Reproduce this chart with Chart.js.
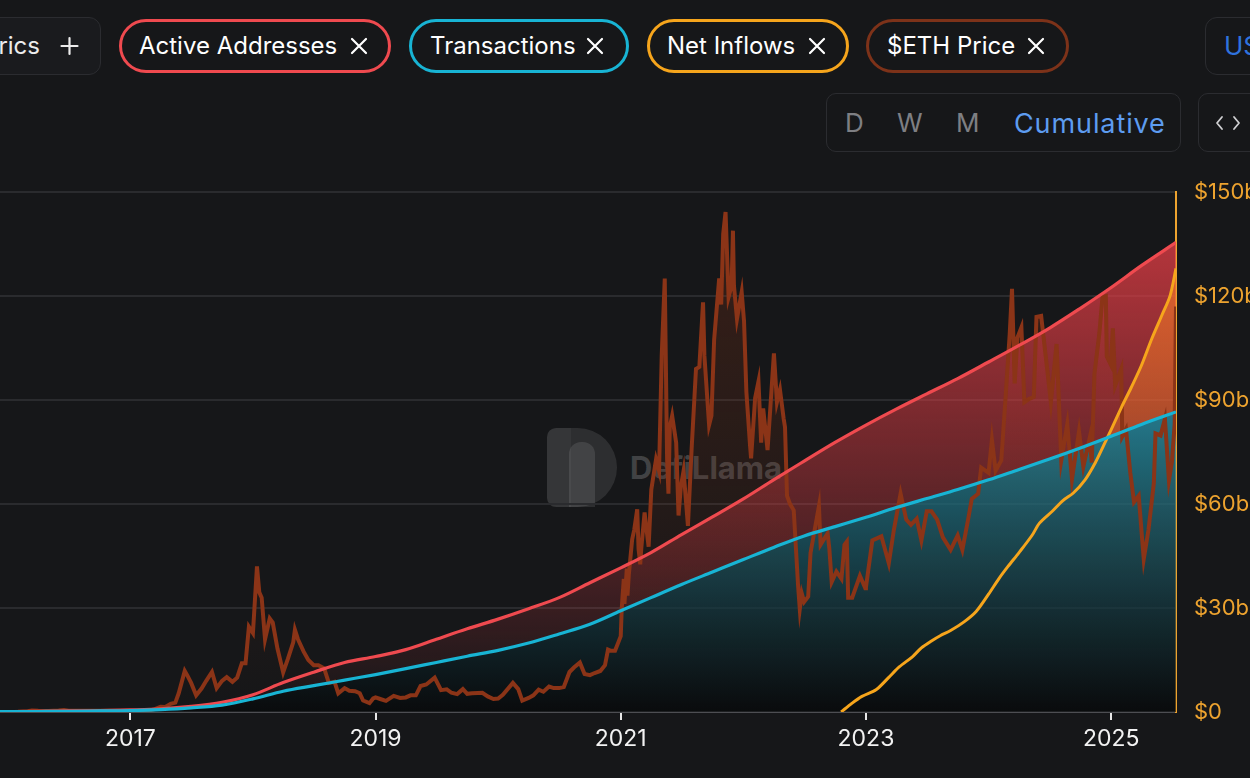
<!DOCTYPE html>
<html><head><meta charset="utf-8">
<script src="https://cdn.jsdelivr.net/npm/chart.js@4.4.1/dist/chart.umd.min.js"></script>
<style>
html,body{margin:0;padding:0;background:#161719;width:1250px;height:778px;overflow:hidden;font-family:Inter,"Noto Sans",sans-serif;}
.box{position:absolute;box-sizing:border-box;border:1.5px solid #2b2c30;border-radius:12px;}
.pill{position:absolute;top:19px;height:54px;box-sizing:border-box;border:3px solid;border-radius:27px;}
.t{position:absolute;top:50%;transform:translateY(-50%);white-space:nowrap;line-height:1;}
.pill .t{color:#fff;font-size:24px;}
.ic{position:absolute;top:50%;transform:translateY(-50%);}
#wrap{position:absolute;left:0;top:161px;width:1300px;height:617px;z-index:2;}
#wm{position:absolute;left:547px;top:428px;z-index:1;}
</style></head>
<body>
<div class="box" style="left:-100px;top:17px;width:201px;height:58px;background:#1a1b1e;">
  <span class="t" style="right:60px;color:#ececec;font-size:24px;">Metrics</span>
  <svg class="ic" style="left:159px" width="19" height="19" viewBox="0 0 19 19"><path d="M9.5 1.5v16M1.5 9.5h16" stroke="#ececec" stroke-width="2.2" stroke-linecap="round"/></svg>
</div>
<div class="pill" style="left:119px;width:272px;border-color:#ef4a4f;">
  <span class="t" style="left:17px">Active Addresses</span>
  <svg class="ic" style="left:228px" width="18" height="18" viewBox="0 0 18 18"><path d="M2 2L16 16M16 2L2 16" stroke="#fff" stroke-width="2.2" stroke-linecap="round"/></svg>
</div>
<div class="pill" style="left:409px;width:220px;border-color:#18b4d4;">
  <span class="t" style="left:18px">Transactions</span>
  <svg class="ic" style="left:174px" width="18" height="18" viewBox="0 0 18 18"><path d="M2 2L16 16M16 2L2 16" stroke="#fff" stroke-width="2.2" stroke-linecap="round"/></svg>
</div>
<div class="pill" style="left:647px;width:202px;border-color:#f6a51c;">
  <span class="t" style="left:17px">Net Inflows</span>
  <svg class="ic" style="left:158px" width="18" height="18" viewBox="0 0 18 18"><path d="M2 2L16 16M16 2L2 16" stroke="#fff" stroke-width="2.2" stroke-linecap="round"/></svg>
</div>
<div class="pill" style="left:866px;width:203px;border-color:#7d3219;">
  <span class="t" style="left:18px">$ETH Price</span>
  <svg class="ic" style="left:158px" width="18" height="18" viewBox="0 0 18 18"><path d="M2 2L16 16M16 2L2 16" stroke="#fff" stroke-width="2.2" stroke-linecap="round"/></svg>
</div>
<div class="box" style="left:1205px;top:17px;width:90px;height:58px;">
  <span class="t" style="left:18px;color:#2f72de;font-size:26px;">USD</span>
</div>
<div class="box" style="left:826px;top:93px;width:355px;height:59px;border-radius:10px;">
  <span class="t" style="left:18px;color:#7e7f83;font-size:26px;">D</span>
  <span class="t" style="left:70px;color:#7e7f83;font-size:26px;">W</span>
  <span class="t" style="left:129px;color:#7e7f83;font-size:26px;">M</span>
  <span class="t" style="left:187px;color:#5d9cf0;font-size:27px;letter-spacing:0.9px;">Cumulative</span>
</div>
<div class="box" style="left:1198px;top:93px;width:90px;height:59px;border-radius:10px;">
  <svg class="ic" style="left:16px" width="26" height="16" viewBox="0 0 26 16"><path d="M7 2L2 8L7 14M19 2L24 8L19 14" stroke="#d0d0d2" stroke-width="1.8" fill="none" stroke-linecap="round" stroke-linejoin="round"/></svg>
</div>

<div id="wm">
  <div style="position:absolute;left:0;top:0;width:70px;height:79px;border-radius:9px 40px 40px 9px;background:rgba(255,255,255,0.10);"></div>
  <div style="position:absolute;left:0;top:0;width:24px;height:79px;border-radius:9px 0 0 9px;background:rgba(255,255,255,0.04);"></div>
  <div style="position:absolute;left:22px;top:14px;width:26px;height:65px;border-radius:12px 12px 0 0;background:rgba(255,255,255,0.10);"></div>
  <span style="position:absolute;left:83px;top:21px;font-size:31px;font-weight:700;color:rgba(255,255,255,0.2);white-space:nowrap;">DefiLlama</span>
</div>

<div id="wrap"><canvas id="c" width="1300" height="617" style="width:1300px;height:617px"></canvas></div>

<script>
// ---------- data ----------
const cumDates = ['2015-12-09','2016-04-01','2016-07-01','2016-10-01','2017-01-01','2017-04-01','2017-07-01','2017-10-01',
  '2018-01-01','2018-04-01','2018-07-01','2018-10-01','2019-01-01','2019-04-01','2019-07-01','2019-10-01',
  '2020-01-01','2020-04-01','2020-07-01','2020-10-01','2021-01-01','2021-04-01','2021-07-01','2021-10-01',
  '2022-01-01','2022-04-01','2022-07-01','2022-10-01','2023-01-01','2023-04-01','2023-07-01','2023-10-01',
  '2024-01-01','2024-04-01','2024-07-01','2024-10-01','2025-01-01','2025-04-01','2025-07-13'];
const activeAddresses = [0.1,0.2,0.3,0.4,0.6,0.9,1.6,2.8,
  5.0,8.5,11.5,14.3,16.0,18.0,21.0,24.0,
  26.8,29.8,33.0,37.3,41.6,46.0,51.2,56.3,
  61.5,67.0,72.4,77.8,82.8,87.4,91.8,96.2,
  101.0,105.8,110.8,116.5,122.5,128.8,135.5];
const transactions = [0.1,0.15,0.2,0.3,0.4,0.7,1.2,2.0,
  3.8,6.0,7.6,9.2,10.8,12.5,14.3,16.1,
  17.8,19.9,22.5,25.3,29.2,33.0,36.8,40.4,
  44.0,47.5,50.8,53.5,56.2,59.0,61.6,64.2,
  67.0,70.0,73.0,76.2,79.6,83.0,86.6];

const netDates = ['2022-10-19','2022-11-20','2022-12-20','2023-02-01','2023-03-10','2023-04-10','2023-05-20','2023-06-15',
  '2023-07-15','2023-08-10','2023-09-10','2023-10-20','2023-11-25','2024-01-01','2024-02-01','2024-02-28',
  '2024-04-01','2024-05-10','2024-06-01','2024-07-10','2024-08-10','2024-09-10','2024-10-15','2024-11-15',
  '2024-12-10','2025-01-01','2025-02-01','2025-03-01','2025-04-01','2025-05-01','2025-06-01','2025-06-25','2025-07-13'];
const netInflows = [0,2.5,4.5,6.5,10,13,16,18.5,
  20.5,22,23.5,26,29,34,38.5,42,
  46,51,54.5,58,61,63.2,67,72,
  77,81.5,88,93.5,100,107.5,114.5,120,128];

const ethDates = [
  '2015-12-09',
  '2016-01-01','2016-02-01','2016-03-01','2016-03-13','2016-04-01','2016-05-01','2016-06-01','2016-06-17','2016-07-01','2016-08-01','2016-09-01','2016-10-01','2016-11-01','2016-12-01',
  '2017-01-01','2017-02-01','2017-03-01','2017-03-15','2017-04-01','2017-04-15','2017-05-01','2017-05-15','2017-05-25','2017-06-12','2017-06-20','2017-07-01','2017-07-16','2017-08-01','2017-08-15','2017-09-01','2017-09-15','2017-10-01','2017-10-15','2017-11-01','2017-11-15','2017-11-29','2017-12-10','2017-12-20',
  '2018-01-01','2018-01-13','2018-01-20','2018-01-27','2018-02-06','2018-02-20','2018-03-01','2018-03-15','2018-04-01','2018-04-15','2018-05-01','2018-05-06','2018-05-15','2018-06-01','2018-06-15','2018-07-01','2018-07-15','2018-08-01','2018-08-15','2018-09-01','2018-09-12','2018-10-01','2018-10-15','2018-11-01','2018-11-15','2018-11-25','2018-12-14','2018-12-25',
  '2019-01-01','2019-01-15','2019-02-01','2019-02-24','2019-03-15','2019-04-01','2019-04-15','2019-05-01','2019-05-15','2019-06-01','2019-06-26','2019-07-15','2019-08-01','2019-08-15','2019-09-01','2019-09-18','2019-10-01','2019-10-15','2019-11-01','2019-11-15','2019-12-01','2019-12-18',
  '2020-01-01','2020-01-15','2020-02-14','2020-03-01','2020-03-13','2020-04-01','2020-04-15','2020-05-01','2020-05-15','2020-06-01','2020-06-15','2020-07-01','2020-07-15','2020-08-01','2020-08-15','2020-09-01','2020-09-15','2020-10-01','2020-10-15','2020-11-01','2020-11-15','2020-11-24','2020-12-01','2020-12-15',
  '2021-01-01','2021-01-04','2021-01-10','2021-01-12','2021-01-19','2021-01-21','2021-01-25','2021-02-04','2021-02-10','2021-02-19','2021-02-23','2021-02-28','2021-03-03','2021-03-13','2021-03-17','2021-03-25',
  '2021-04-02','2021-04-16','2021-04-25','2021-05-03','2021-05-12','2021-05-19','2021-05-23','2021-05-27','2021-06-03','2021-06-15','2021-06-22','2021-06-29','2021-07-07','2021-07-20','2021-07-31','2021-08-13',
  '2021-08-23','2021-09-03','2021-09-07','2021-09-21','2021-09-28','2021-10-06','2021-10-21','2021-10-27','2021-11-02','2021-11-09','2021-11-18','2021-11-27','2021-12-01','2021-12-04','2021-12-13','2021-12-27',
  '2022-01-03','2022-01-10','2022-01-21','2022-01-24','2022-02-05','2022-02-15','2022-02-23','2022-03-01','2022-03-14','2022-04-02','2022-04-11','2022-04-20',
  '2022-05-01','2022-05-05','2022-05-11','2022-05-20','2022-05-31','2022-06-13','2022-06-18','2022-06-24','2022-07-01','2022-07-13','2022-07-20','2022-08-14',
  '2022-08-19','2022-09-09','2022-09-14','2022-09-21','2022-10-05','2022-10-20','2022-10-29','2022-11-05','2022-11-09','2022-11-21','2022-12-14','2022-12-30',
  '2023-01-01','2023-01-20','2023-02-16','2023-03-10','2023-03-25','2023-04-14','2023-05-01','2023-05-15','2023-06-01','2023-06-15','2023-07-01','2023-07-15','2023-08-01','2023-08-18','2023-09-10','2023-10-01','2023-10-15','2023-11-01','2023-11-12','2023-12-01','2023-12-10',
  '2024-01-01','2024-01-11','2024-01-22','2024-02-08','2024-02-20','2024-03-04','2024-03-11','2024-03-19','2024-03-27','2024-04-08','2024-04-17','2024-04-30','2024-05-15','2024-05-23','2024-06-06','2024-06-24',
  '2024-07-05','2024-07-22','2024-08-05','2024-08-23','2024-09-06','2024-09-27','2024-10-10','2024-10-29','2024-11-04','2024-11-12','2024-11-27','2024-12-06','2024-12-16','2024-12-19','2024-12-31',
  '2025-01-06','2025-01-13','2025-01-31','2025-02-03','2025-02-14','2025-02-27','2025-03-10','2025-03-24','2025-04-08','2025-04-22','2025-05-08','2025-05-13','2025-05-28','2025-06-10','2025-06-22','2025-07-01','2025-07-09','2025-07-13'];
const ethPrice = [
  0.85,
  0.95,2.3,8,15,11.5,8.8,14,18,12,11,12,13,11,8.5,
  8,10.7,16,28,50,48,78,90,180,395,350,280,160,225,300,385,230,300,335,290,330,470,470,820,
  760,1400,1150,1100,700,900,860,610,380,510,670,790,700,580,500,450,450,420,280,290,180,230,205,200,180,110,85,130,
  140,125,107,155,135,140,160,160,250,265,330,210,218,185,172,220,175,180,183,185,150,125,
  130,165,280,220,110,135,160,215,195,245,230,230,240,385,430,475,365,355,375,395,450,600,590,590,
  730,1000,1280,1040,1380,1120,1320,1660,1750,1950,1570,1420,1570,1920,1800,1590,
  2140,2430,2320,3430,4170,2430,2100,2740,2850,2590,1890,2170,2320,1790,2530,3300,
  3320,3940,3430,2760,2850,3580,4170,3920,4600,4810,3990,4100,4630,4100,3780,4040,
  3760,3080,2560,2440,3020,3180,2590,2920,2520,3450,2980,3100,
  2820,2740,2080,2000,1940,1210,990,1140,1060,1110,1530,1980,
  1610,1720,1570,1250,1350,1280,1610,1640,1100,1100,1310,1190,
  1200,1650,1690,1430,1750,2100,1850,1800,1860,1650,1930,1930,1850,1680,1560,1700,1560,1850,2050,2100,2350,
  2300,2620,2320,2420,2990,3630,4070,3160,3600,3700,2980,3010,3030,3800,3810,3300,
  2980,3540,2420,2770,2240,2700,2360,2640,2400,3250,3650,3990,4000,3420,3340,
  3690,3140,3300,2650,2720,2300,2020,2080,1470,1750,2200,2680,2660,2820,2230,2410,2770,3900];

const xTickYears = [2017, 2019, 2021, 2023, 2025];
const netTicks = [0, 30, 60, 90, 120, 150];
const xStart = '2015-12-09', xEnd = '2025-07-13';

// ---------- helpers ----------
function toYear(s){
  const [y,m,d] = s.split('-').map(Number);
  const a = Date.UTC(y,0,1), b = Date.UTC(y+1,0,1);
  return y + (Date.UTC(y,m-1,d) - a) / (b - a);
}
const pts = (dates, vals) => dates.map((d,i) => ({x: toYear(d), y: vals[i]}));
function vgrad(stops){
  return (ctx) => {
    const chart = ctx.chart, a = chart.chartArea;
    if (!a) return stops[0][1];
    const g = chart.ctx.createLinearGradient(0, a.top, 0, a.bottom);
    stops.forEach(([o,c]) => g.addColorStop(o,c));
    return g;
  };
}
const font = {family: 'Inter', size: 22};

new Chart(document.getElementById('c'), {
  type: 'line',
  data: {
    datasets: [
      {label:'Active Addresses', data: pts(cumDates, activeAddresses), yAxisID:'yAA',
       borderColor:'#ef4a4f', borderWidth:3.2, pointRadius:0, cubicInterpolationMode:'monotone',
       fill:{target:1}, backgroundColor: vgrad([[0,'rgba(228,62,70,0.85)'],[1,'rgba(228,62,70,0)']]), order:3},
      {label:'Transactions', data: pts(cumDates, transactions), yAxisID:'yTx',
       borderColor:'#18b4d4', borderWidth:3.2, pointRadius:0, cubicInterpolationMode:'monotone',
       fill:'origin', backgroundColor: vgrad([[0,'rgba(44,186,216,0.92)'],[0.45,'rgba(40,146,168,0.75)'],[1,'rgba(4,6,7,0.65)']]), order:1},
      {label:'Net Inflows', data: pts(netDates, netInflows), yAxisID:'yNet',
       borderColor:'#f6a51c', borderWidth:3, pointRadius:0, tension:0.3,
       fill:{target:1, below:'rgba(0,0,0,0)'}, backgroundColor: vgrad([[0,'rgba(240,118,40,0.8)'],[1,'rgba(240,118,40,0)']]), order:2},
      {label:'$ETH Price', data: pts(ethDates, ethPrice), yAxisID:'yEth',
       borderColor:'#8b3417', borderWidth:4, pointRadius:0, tension:0,
       fill:'origin', backgroundColor: vgrad([[0,'rgba(140,52,22,0.3)'],[1,'rgba(140,52,22,0)']]), order:4}
    ]
  },
  options: {
    responsive:false, animation:false,
    layout:{padding:{top:20, bottom:26, left:0, right:0}},
    plugins:{legend:{display:false}, tooltip:{enabled:false}, filler:{drawTime:'beforeDatasetsDraw'}},
    scales:{
      x:{type:'linear', position:'bottom', min: toYear(xStart), max: toYear(xEnd),
        afterBuildTicks: ax => { ax.ticks = xTickYears.map(v => ({value:v})); },
        ticks:{callback: v => String(v), color:'#f2f2f2', font:{family:'Inter', size:23}, padding:5, maxRotation:0, autoSkip:false},
        grid:{drawOnChartArea:false, drawTicks:true, tickLength:8, color:'#e8e8e8', lineWidth:2},
        border:{color:'#4d4e52', width:2},
        afterFit: s => { s.height = 40; }},
      yNet:{position:'right', min:0, max:150,
        afterBuildTicks: ax => { ax.ticks = netTicks.map(v => ({value:v})); },
        ticks:{callback: v => v === 0 ? '$0' : '$' + v + 'b', color:'#eda32f', font, padding:18},
        grid:{color:'#2a2b2e', lineWidth:2, drawTicks:false},
        border:{display:true, color:'#eda32f', width:2},
        afterFit: s => { s.width = 124; }},
      yAA:{display:false, min:0, max:150},
      yTx:{display:false, min:0, max:150},
      yEth:{display:false, min:0, max:5000}
    }
  }
});
</script>
</body></html>
